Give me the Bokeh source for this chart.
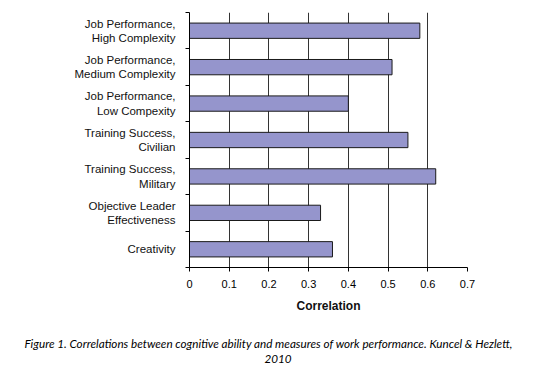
from bokeh.plotting import figure
from bokeh.models import FixedTicker, Range1d, Title
from bokeh.embed import file_html
from bokeh.resources import INLINE

categories = [
    "Job Performance,\nHigh Complexity",
    "Job Performance,\nMedium Complexity",
    "Job Performance,\nLow Compexity",
    "Training Success,\nCivilian",
    "Training Success,\nMilitary",
    "Objective Leader\nEffectiveness",
    "Creativity",
]
values = [0.58, 0.51, 0.40, 0.55, 0.62, 0.33, 0.36]
x_ticks = [0, 0.1, 0.2, 0.3, 0.4, 0.5, 0.6, 0.7]
x_label = "Correlation"
caption_1 = "Figure 1. Correlations between cognitive ability and measures of work performance. Kuncel & Hezlett,"
caption_2 = "2010"

n = len(categories)
centers = [n - i - 0.5 for i in range(n)]

p = figure(width=536, height=370, output_backend="svg", toolbar_location=None,
           x_range=Range1d(0, 0.7), y_range=Range1d(0, n),
           min_border_left=189, min_border_right=69, min_border_top=12, min_border_bottom=103)
p.outline_line_color = None
p.background_fill_color = "white"
p.border_fill_color = "white"

p.hbar(y=centers, right=values, left=0, height=0.42, fill_color="#9595CC",
       line_color="#1a1a1a", line_width=1)

# x axis
p.xaxis.ticker = FixedTicker(ticks=x_ticks)
p.xaxis.major_label_overrides = {t: ("0" if t == 0 else f"{t:.1f}") for t in x_ticks}
p.xaxis.major_tick_in = 0
p.xaxis.major_tick_out = 4
p.xaxis.minor_tick_line_color = None
p.xaxis.axis_line_color = "black"
p.xaxis.major_tick_line_color = "black"
p.xaxis.major_label_text_font = "Liberation Sans"
p.xaxis.major_label_text_font_size = "11px"
p.xaxis.major_label_text_color = "black"
p.xaxis.major_label_standoff = 8
p.xaxis.axis_label = x_label
p.xaxis.axis_label_text_font = "Liberation Sans"
p.xaxis.axis_label_text_font_style = "bold"
p.xaxis.axis_label_text_font_size = "12px"
p.xaxis.axis_label_text_color = "#111111"
p.xaxis.axis_label_standoff = 8

# y axis
p.yaxis.ticker = FixedTicker(ticks=centers, minor_ticks=list(range(n + 1)))
p.yaxis.major_label_overrides = {c: lab for c, lab in zip(centers, categories)}
p.yaxis.major_tick_line_color = None
p.yaxis.minor_tick_in = 0
p.yaxis.minor_tick_out = 4
p.yaxis.minor_tick_line_color = "black"
p.yaxis.axis_line_color = "black"
p.yaxis.major_label_text_font = "Liberation Sans"
p.yaxis.major_label_text_font_size = "11.5px"
p.yaxis.major_label_text_color = "#111111"
p.yaxis.major_label_standoff = 8

# grid
p.ygrid.grid_line_color = None
p.xgrid.ticker = FixedTicker(ticks=x_ticks[1:])
p.xgrid.grid_line_color = "#333333"
p.xgrid.grid_line_width = 1

spacer = Title(text=" ", text_font_size="1px", standoff=12)
t1 = Title(text=caption_1, align="left", offset=-165, text_font="Lato",
           text_font_style="italic", text_font_size="11.7px", text_color="black",
           standoff=6)
t2 = Title(text=caption_2, align="left", offset=75, text_font="Lato",
           text_font_style="italic", text_font_size="11.7px", text_color="black",
           standoff=0)
p.add_layout(spacer, "below")
p.add_layout(t1, "below")
p.add_layout(t2, "below")

open("out.html", "w").write(file_html(p, INLINE))
